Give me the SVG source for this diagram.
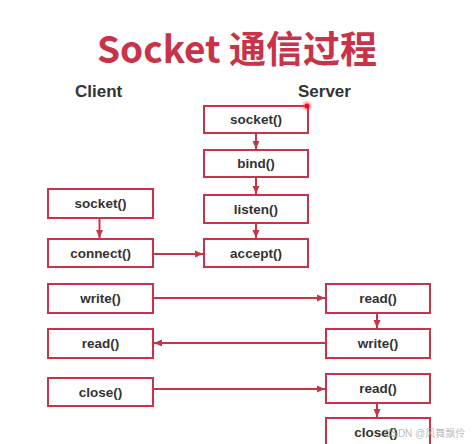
<svg xmlns="http://www.w3.org/2000/svg" width="474" height="444" viewBox="0 0 474 444">
<defs>
<marker id="ah" viewBox="0 0 8 8" refX="8" refY="4" markerWidth="8" markerHeight="8" markerUnits="userSpaceOnUse" orient="auto">
<path d="M0,0.5 L8,4 L0,7.5 Z" fill="#c8334a"/>
</marker>
<radialGradient id="glow">
<stop offset="0" stop-color="#ff3040" stop-opacity="0.8"/>
<stop offset="1" stop-color="#ff3040" stop-opacity="0"/>
</radialGradient>
</defs>
<style>
.box{fill:#fff;stroke:#c8334a;stroke-width:2}
.lbl{font-family:"Liberation Sans","Noto Sans",Arial,sans-serif;font-weight:bold;font-size:13.5px;fill:#333;text-anchor:middle}
.hdr{font-family:"Liberation Sans","Noto Sans",Arial,sans-serif;font-weight:bold;font-size:17px;fill:#333}
.con{fill:none;stroke:#c8334a;stroke-width:2;marker-end:url(#ah)}
</style>
<rect width="474" height="444" fill="#fff"/>
<text x="237" y="63" text-anchor="middle" font-family="'Noto Sans CJK SC','Noto Sans',sans-serif" font-weight="bold" font-size="37" fill="#c8334a">Socket 通信过程</text>
<text class="hdr" x="75" y="97">Client</text>
<text class="hdr" x="298" y="97">Server</text>

<g id="s_socket"><rect class="box" x="204" y="106" width="104" height="27"/><text class="lbl" x="256" y="124">socket()</text></g>
<g id="s_bind"><rect class="box" x="204" y="150" width="104" height="27"/><text class="lbl" x="256" y="168">bind()</text></g>
<g id="s_listen"><rect class="box" x="204" y="195" width="104" height="28"/><text class="lbl" x="256" y="214">listen()</text></g>
<g id="s_accept"><rect class="box" x="204" y="239" width="104" height="28"/><text class="lbl" x="256" y="258">accept()</text></g>

<g id="c_socket"><rect class="box" x="48" y="189" width="105" height="29"/><text class="lbl" x="100.5" y="208">socket()</text></g>
<g id="c_connect"><rect class="box" x="48" y="239" width="105" height="28"/><text class="lbl" x="100.5" y="258">connect()</text></g>
<g id="c_write"><rect class="box" x="48" y="284" width="105" height="29"/><text class="lbl" x="100.5" y="303">write()</text></g>
<g id="c_read"><rect class="box" x="48" y="329" width="105" height="29"/><text class="lbl" x="100.5" y="348">read()</text></g>
<g id="c_close"><rect class="box" x="48" y="378" width="105" height="28"/><text class="lbl" x="100.5" y="397">close()</text></g>

<g id="s_read1"><rect class="box" x="326" y="284" width="104" height="29"/><text class="lbl" x="378" y="303">read()</text></g>
<g id="s_write"><rect class="box" x="326" y="329" width="104" height="29"/><text class="lbl" x="378" y="348">write()</text></g>
<g id="s_read2"><rect class="box" x="326" y="374" width="104" height="29"/><text class="lbl" x="378" y="393">read()</text></g>
<g id="s_close"><rect class="box" x="326" y="418" width="104" height="32"/><text class="lbl" x="376" y="437">close()</text></g>

<g id="connectors">
<line class="con" x1="256" y1="133" x2="256" y2="149"/>
<line class="con" x1="256" y1="177" x2="256" y2="194"/>
<line class="con" x1="256" y1="223" x2="256" y2="238"/>
<line class="con" x1="99.5" y1="218" x2="99.5" y2="238"/>
<line class="con" x1="153" y1="254" x2="203" y2="254"/>
<line class="con" x1="153" y1="298" x2="325" y2="298"/>
<line class="con" x1="326" y1="343" x2="154" y2="343"/>
<line class="con" x1="153" y1="389" x2="325" y2="389"/>
<line class="con" x1="377" y1="313" x2="377" y2="328"/>
<line class="con" x1="377" y1="403" x2="377" y2="417"/>
</g>
<circle cx="307" cy="106" r="6" fill="url(#glow)"/>
<circle cx="307" cy="106" r="2.5" fill="#e8101e"/>
<text x="384" y="437" font-family="'Liberation Sans','Noto Sans CJK SC',sans-serif" font-size="10" fill="#aaa" fill-opacity="0.8">CSDN @风舞飘伶</text>
</svg>
